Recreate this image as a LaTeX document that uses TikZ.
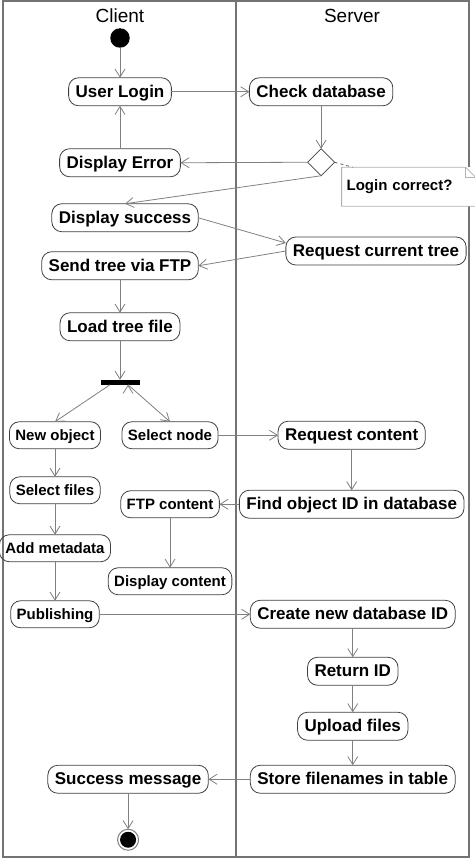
\documentclass[tikz,border=0pt]{standalone}
\usepackage{fontspec}
\setmainfont{Liberation Sans}
\usetikzlibrary{positioning,shapes.geometric,arrows.meta}

\begin{document}
\begin{tikzpicture}[x=1pt,y=-1pt,node distance=30pt,
    every node/.style={outer sep=0pt},
    act/.style={draw=black!75, line width=0.8pt, rounded corners=10pt,
        minimum height=28pt, inner xsep=7pt, inner ysep=2pt,
        text height=13pt, text depth=2pt,
        font=\fontsize{17}{20}\selectfont\bfseries},
    actsmall/.style={act, minimum height=27pt, inner xsep=6pt,
        text height=11.5pt, text depth=1.5pt,
        font=\fontsize{15}{18}\selectfont\bfseries},
    startdot/.style={circle, fill=black, minimum size=19.5pt, inner sep=0pt},
    enddot/.style={circle, draw=black!50, line width=1pt, fill=white,
        minimum size=21pt, inner sep=0pt,
        path picture={\fill[black] (path picture bounding box.center) circle (8pt);}},
    decision/.style={diamond, draw=black!75, line width=0.8pt, fill=white,
        minimum width=27pt, minimum height=27pt, inner sep=0pt},
    forkbar/.style={fill=black, minimum width=39pt, minimum height=5pt, inner sep=0pt},
    notebox/.style={fill=white, text width=124pt, inner xsep=5pt,
        minimum height=39pt, align=left,
        font=\fontsize{15}{18}\selectfont\bfseries},
    noteline/.style={draw=black!30, line width=0.8pt},
    lane/.style={draw=black!55, line width=1.3pt},
    lanehead/.style={font=\fontsize{19}{22}\selectfont},
    flow/.style={->, >={Straight Barb[length=8pt,width=10pt]},
        draw=black!50, line width=0.8pt}]
    \useasboundingbox (0,0) rectangle (474,859);
    % swimlanes
    \draw[lane] (3,1) rectangle (469,857);
    \draw[lane] (236,1) -- (236,857);
    \node[lanehead] (client) at (120,16) {Client};
    \node[lanehead] (server) at (352,16) {Server};
    %
    \node[startdot]                                 (start)    at (120,38) {};
    \node[act, below=30pt of start]                 (login)    {User Login};
    \node[act, right=78pt of login]                 (checkdb)  {Check database};
    \node[decision, below=43pt of checkdb]          (dec)      {};
    \node[act, below=43pt of login]                 (error)    {Display Error};
    \node[act, below=27pt of error, xshift=5pt]     (success)  {Display success};
    \node[act]                                      (reqtree)  at (376,251) {Request current tree};
    \node[act, below=20pt of success, xshift=-5pt]  (sendtree) {Send tree via FTP};
    \node[act, below=33pt of sendtree]              (loadtree) {Load tree file};
    \node[forkbar, below=39pt of loadtree]          (bar)      {};
    \node[actsmall, below=37pt of bar, xshift=-65pt] (newobj)  {New object};
    \node[actsmall, below=37pt of bar, xshift=50pt]  (selnode) {Select node};
    \node[act, right=60pt of selnode]               (reqcont)  {Request content};
    \node[act, below=41pt of reqcont]               (findid)   {Find object ID in database};
    \node[actsmall, left=20pt of findid]            (ftpcont)  {FTP content};
    \node[actsmall, below=50pt of ftpcont]          (dispcont) {Display content};
    \node[actsmall, below=28pt of newobj]           (selfiles) {Select files};
    \node[actsmall, below=31pt of selfiles]         (addmeta)  {Add metadata};
    \node[actsmall, below=39pt of addmeta]          (publish)  {Publishing};
    \node[act, right=151pt of publish]              (createid) {Create new database ID};
    \node[act, below=29pt of createid]              (retid)    {Return ID};
    \node[act, below=27pt of retid]                 (upload)   {Upload files};
    \node[act, below=25pt of upload]                (store)    {Store filenames in table};
    \node[act, left=42pt of store]                  (succmsg)  {Success message};
    \node[enddot, below=36pt of succmsg]            (end)      {};
    % note on the decision
    \node[notebox, anchor=north west] (note) at ([xshift=7pt,yshift=-5pt]dec.east) {Login correct?};
    \draw[noteline] (note.north west) -- ([xshift=-10pt]note.north east)
        -- ([yshift=-10pt]note.north east) -- (note.south east) -- (note.south west) -- cycle;
    \draw[noteline] ([xshift=-10pt]note.north east) |- ([yshift=-10pt]note.north east);
    \draw[draw=black!60, line width=0.8pt, dashed] (dec.east) -- ([xshift=11pt]note.north west);
    %
    \path[flow]
        (start)    edge (login)
        (login)    edge (checkdb)
        (checkdb)  edge (dec)
        (dec.west) edge (error.east)
        (error)    edge (login)
        (dec.south) edge (success.north)
        (success.east) edge ([yshift=8pt]reqtree.west)
        (reqtree.west) edge (sendtree.east)
        (sendtree) edge (loadtree)
        (loadtree) edge (bar)
        ([xshift=-10pt]bar.south) edge (newobj.north)
        ([xshift=8pt]bar.south)   edge (selnode.north)
        (selnode)  edge (reqcont)
        (reqcont)  edge (findid)
        (findid)   edge (ftpcont)
        (ftpcont)  edge (dispcont)
        (newobj)   edge (selfiles)
        (selfiles) edge (addmeta)
        (addmeta)  edge (publish)
        (publish)  edge (createid)
        (createid) edge (retid)
        (retid)    edge (upload)
        (upload)   edge (store)
        (store)    edge (succmsg)
        (succmsg)  edge (end)
    ; %-path-%
\end{tikzpicture}
\end{document}
